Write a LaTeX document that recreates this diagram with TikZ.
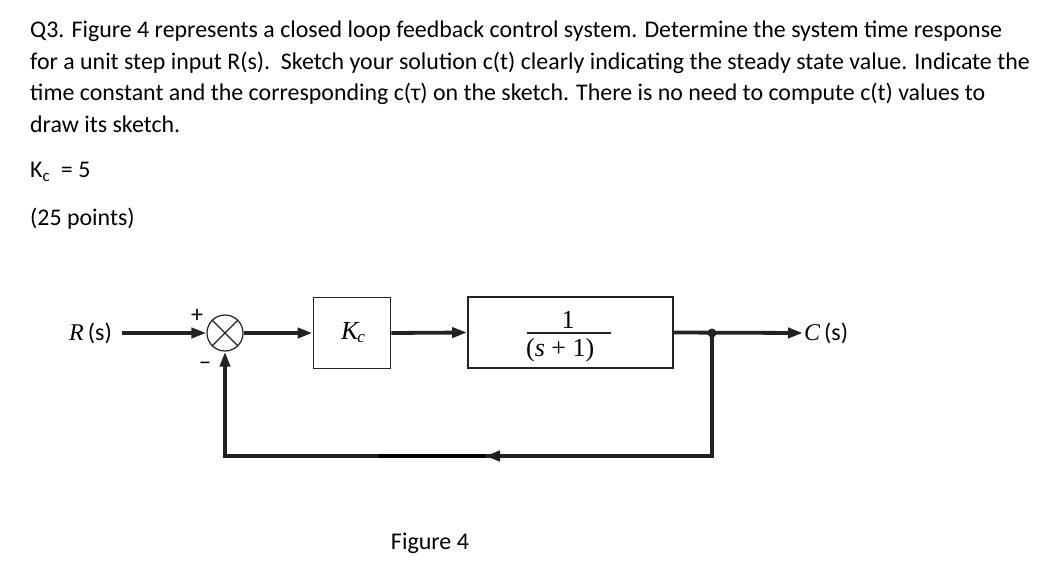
\documentclass[tikz,border=0pt]{standalone}
\usepackage{fontspec}
\setmainfont{Carlito}
\newfontfamily\tnr{Liberation Serif}
\usetikzlibrary{arrows.meta}
\definecolor{ln}{HTML}{222222}
\tikzset{
  txt/.style={anchor=base west, inner sep=0pt, font=\fontsize{23.9}{28}\selectfont},
  blk/.style={draw=ln, line width=1.8pt, minimum width=77pt, minimum height=71pt, inner sep=0pt},
  sig/.style={draw=ln, line width=3.8pt, -{Triangle[length=15pt,width=10pt]}},
  wire/.style={draw=ln, line width=3.8pt},
  lbl/.style={inner sep=0pt, font=\fontsize{24}{28}\selectfont},
}
\begin{document}
\begin{tikzpicture}[x=1pt,y=-1pt]
\useasboundingbox (0,0) rectangle (1060,583);
% question text
\node[txt] (t1) at (30,38) {Q3. Figure 4 represents a closed loop feedback control system. Determine the system time response};
\node[txt] (t2) at (30,69.5) {for a unit step input R(s).\ \ Sketch your solution c(t) clearly indicating the steady state value. Indicate the};
\node[txt] (t3) at (30,101) {time constant and the corresponding c(τ) on the sketch. There is no need to compute c(t) values to};
\node[txt] (t4) at (30,132) {draw its sketch.};
\node[txt] (t5) at (30,178) {K\textsubscript{c}\ \ = 5};
\node[txt] (t6) at (30,225) {(25 points)};
% block diagram
\node[lbl, anchor=east, inner xsep=10pt] (R) at (122,333) {{\tnr\itshape R}\,(s)};
\node[circle, draw=ln, line width=1.2pt, minimum size=36pt, inner sep=0pt] (sum) at (225,333) {};
\draw[ln, line width=1.2pt] (sum.north west) -- (sum.south east) (sum.north east) -- (sum.south west);
\node[lbl] (plus) at (197,316) {+};
\node[lbl] (minus) at (205,366) {−};
\node[blk] (kc) at (352,333) {};
\node[lbl] (kct) at (353,333) {\tnr\fontsize{26}{28}\selectfont\itshape K\kern-1pt\raisebox{-3pt}{\fontsize{17}{18}\selectfont c}};
\node[blk, minimum width=205pt] (g) at (570.5,332.5) {};
\node[lbl] (num) at (568,320) {\tnr\fontsize{26}{28}\selectfont 1};
\draw[ln, line width=1.2pt] (527,333) -- (611,333);
\node[lbl, anchor=west] (den) at (526,350) {\tnr\fontsize{26}{28}\selectfont (\textit{s} + 1)};
\node[lbl, anchor=west, inner xsep=1pt] (C) at (803,333) {{\tnr\itshape C}\,(s)};
\coordinate (j) at (712,333);
\coordinate (b1) at (712,456);
\coordinate (b2) at (225,456);
\coordinate (bm) at (485,456);
\coordinate (bk) at (378,456);
\draw[sig] (R.east) -- (sum.west);
\draw[sig] (sum.east) -- (kc.west);
\draw[sig] (kc.east) -- (g.west);
\draw[sig] (g.east) -- (C.west);
\fill[ln] (j) circle (4.5pt);
\draw[wire, line join=miter] (j) -- (b1) -- (bm);
\draw[draw=black, line width=4.4pt] (bk) -- (bm);
\draw[wire, -{Triangle[length=15pt,width=10pt]}] (b1) -- (bm);
\draw[sig, line join=miter] (bk) -- (b2) -- (sum.south);
\node[lbl] (fig) at (430,543) {Figure 4};
\end{tikzpicture}
\end{document}
